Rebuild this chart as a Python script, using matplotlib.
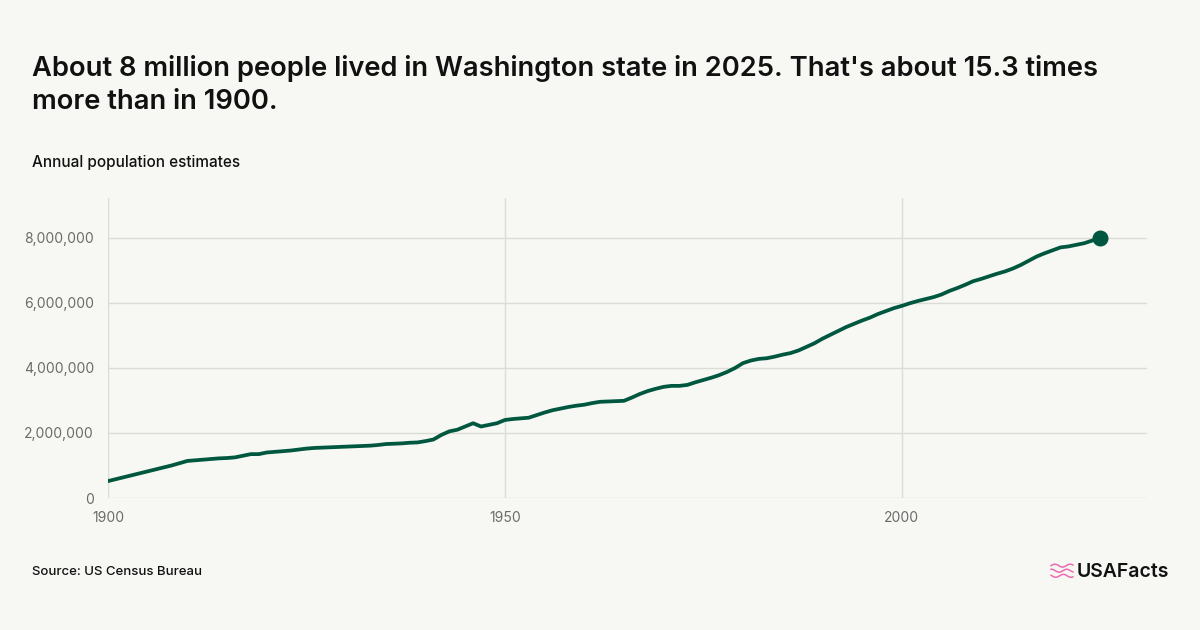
import numpy as np
import matplotlib.pyplot as plt
from matplotlib.ticker import FuncFormatter

years = list(range(1900, 2026))
population_m = [
    0.52, 0.58, 0.64, 0.70, 0.76, 0.82, 0.88, 0.94, 1.00, 1.07,  # 1900s
    1.14, 1.16, 1.18, 1.20, 1.22, 1.23, 1.25, 1.30, 1.35, 1.35,  # 1910s
    1.40, 1.42, 1.44, 1.46, 1.49, 1.52, 1.54, 1.55, 1.56, 1.57,  # 1920s
    1.58, 1.59, 1.60, 1.61, 1.63, 1.66, 1.67, 1.68, 1.70, 1.71,  # 1930s
    1.75, 1.80, 1.94, 2.05, 2.10, 2.20, 2.30, 2.20, 2.25, 2.30,  # 1940s
    2.40, 2.43, 2.45, 2.47, 2.55, 2.63, 2.70, 2.75, 2.80, 2.84,  # 1950s
    2.87, 2.92, 2.96, 2.97, 2.98, 2.99, 3.09, 3.20, 3.29, 3.36,  # 1960s
    3.42, 3.45, 3.45, 3.48, 3.56, 3.63, 3.70, 3.78, 3.88, 4.00,  # 1970s
    4.15, 4.23, 4.28, 4.30, 4.35, 4.41, 4.46, 4.54, 4.65, 4.76,  # 1980s
    4.90, 5.02, 5.14, 5.26, 5.36, 5.46, 5.55, 5.66, 5.75, 5.84,  # 1990s
    5.91, 5.99, 6.06, 6.12, 6.18, 6.26, 6.37, 6.46, 6.56, 6.67,  # 2000s
    6.74, 6.82, 6.90, 6.97, 7.06, 7.17, 7.30, 7.43, 7.53, 7.62,  # 2010s
    7.71, 7.74, 7.79, 7.84, 7.92, 8.00,                          # 2020s
]
y_ticks = [0, 2_000_000, 4_000_000, 6_000_000, 8_000_000]
x_ticks = [1900, 1950, 2000]

title = "About 8 million people lived in Washington state in 2025. That's about 15.3 times\nmore than in 1900."
subtitle = "Annual population estimates"
source = "Source: US Census Bureau"

bg = '#f7f7f3'
green = '#00573f'
grid = '#dcdcd6'

plt.rcParams['font.family'] = ['Inter', 'DejaVu Sans']

fig = plt.figure(figsize=(12, 6.3), dpi=100, facecolor=bg)
ax = fig.add_axes([108 / 1200, 1 - 498 / 630, (1147 - 108) / 1200, 300 / 630])
ax.set_facecolor(bg)

pop = np.array(population_m) * 1e6
ax.plot(years, pop, color=green, lw=2.7, solid_capstyle='round', solid_joinstyle='round', zorder=3)
ax.scatter([years[-1]], [pop[-1]], s=110, color=green, zorder=4)

ax.set_xlim(1900, 2030.9)
ax.set_ylim(0, 9.23e6)
ax.set_xticks(x_ticks)
ax.set_yticks(y_ticks)
ax.yaxis.set_major_formatter(FuncFormatter(lambda v, p: f'{int(v):,}'))
ax.grid(True, color=grid, lw=1)
ax.set_axisbelow(True)
for s in ax.spines.values():
    s.set_visible(False)
ax.tick_params(length=0, labelsize=10, labelcolor='#6b6b6b', pad=10)
ax.tick_params(axis='x', pad=9)

fig.text(32 / 1200, 1 - 85 / 630, title, fontsize=19.7, fontweight='semibold',
         color='#111111', va='center', linespacing=1.32)
fig.text(32 / 1200, 1 - 163 / 630, subtitle, fontsize=11, color='#111111',
         va='center', fontweight='medium')
fig.text(32 / 1200, 1 - 572 / 630, source, fontsize=9.5, color='#111111',
         va='center', fontweight='medium')

# logo: pink outline mark + wordmark
lx = fig.add_axes([1050 / 1200, 1 - 582 / 630, 24 / 1200, 20 / 630])
lx.axis('off')
t = np.linspace(0, 1, 30)
for off in [0.0, 0.35, 0.7]:
    lx.plot(t, 0.8 - off * 0.8 + 0.08 * np.sin(t * 9 + off * 4), color='#ec6bb0', lw=1.1)
lx.set_xlim(-0.05, 1.05)
lx.set_ylim(-0.1, 1.0)
fig.text(1077 / 1200, 1 - 572 / 630, 'USAFacts', fontsize=14, fontweight='semibold',
         color='#111111', va='center')

fig.savefig('out.png', dpi=100, facecolor=bg)
